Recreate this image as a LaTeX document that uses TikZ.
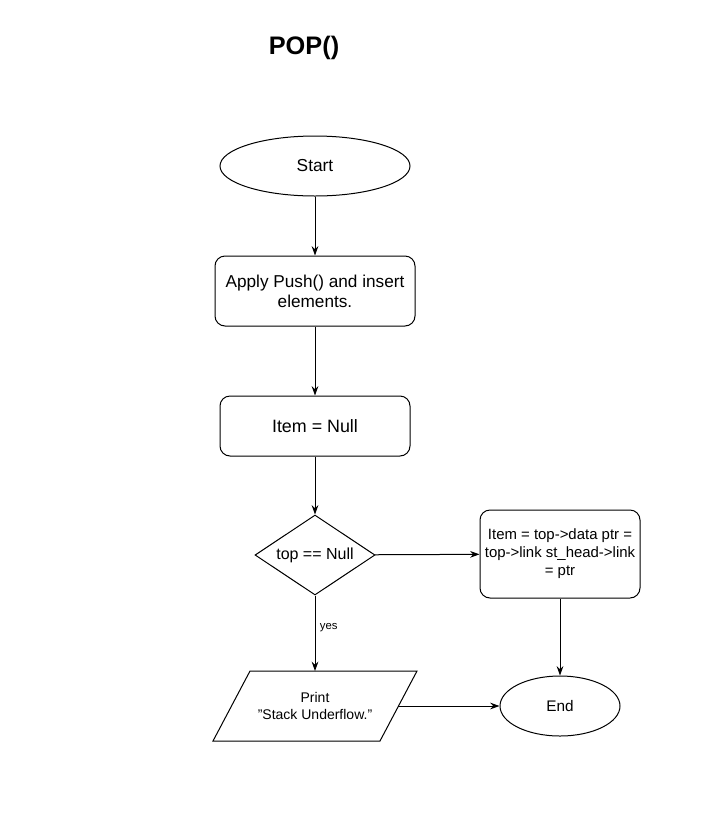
\documentclass[tikz,border=0pt]{standalone}
\usepackage{fontspec}
\setmainfont{Liberation Sans}
\usetikzlibrary{shapes.geometric,arrows.meta}
\begin{document}
\begin{tikzpicture}[x=0.75pt,y=-0.75pt,
  base/.style={draw=black,line width=0.75pt,fill=white,align=center,inner sep=0pt},
  box/.style={base,rounded corners=7.5pt},
  arr/.style={-{Stealth[length=7pt,width=5pt]},line width=0.75pt}]
\useasboundingbox (0,0) rectangle (720,815);
\node[font=\bfseries\fontsize{19}{22}\selectfont] (title) at (304,48) {POP()};
\node[base,ellipse,minimum width=190*0.75pt,minimum height=60*0.75pt,font=\fontsize{13}{15}\selectfont] (start) at (315,166) {Start};
\node[box,minimum width=200*0.75pt,minimum height=70*0.75pt,font=\fontsize{12.9}{15}\selectfont] (push) at (315,291) {Apply Push() and insert\\elements.};
\node[box,minimum width=190*0.75pt,minimum height=60*0.75pt,font=\fontsize{13.4}{15}\selectfont] (item) at (315,426) {Item = Null};
\node[base,diamond,aspect=1.5,minimum width=120*0.75pt,minimum height=80*0.75pt,font=\fontsize{12}{13}\selectfont] (dec) at (315,555) {top == Null};
\node[box,minimum width=160*0.75pt,minimum height=88*0.75pt,font=\fontsize{11.2}{13.5}\selectfont] (ptr) at (560,554) {Item = top->data ptr =\\top->link st\_head->link\\= ptr};
\draw[line width=0.75pt,fill=white] (250,671) -- (417,671) -- (380,741) -- (213,741) -- cycle;
\node[align=center,font=\fontsize{10.5}{13}\selectfont] (print) at (315,706) {Print\\{\char"22}Stack Underflow.{\char"22}};
\coordinate (pr) at (398,706);
\node[base,ellipse,minimum width=120*0.75pt,minimum height=60*0.75pt,font=\fontsize{11.5}{13}\selectfont] (end) at (560,706) {End};
\draw[arr] (start) -- (push);
\draw[arr] (push) -- (item);
\draw[arr] (item) -- (dec);
\draw[arr] (dec.south) -- (315,671) node[pos=0.42,right=0pt,font=\fontsize{8.5}{10}\selectfont] {yes};
\draw[arr] (dec) -- (ptr);
\draw[arr] (ptr) -- (end);
\draw[arr] (pr) -- (end);
\end{tikzpicture}
\end{document}
